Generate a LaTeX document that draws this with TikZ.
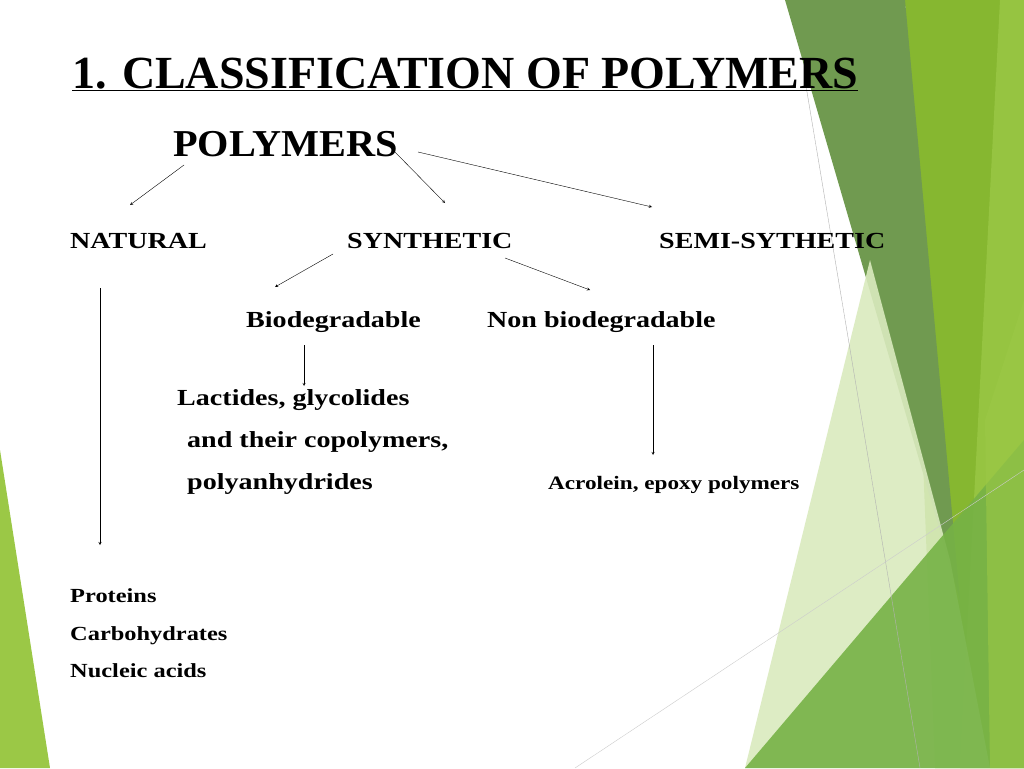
\documentclass[tikz,border=0pt]{standalone}
\usepackage{fontspec}
\setmainfont{Liberation Serif}
\newfontfamily\widef[FakeStretch=1.22]{Liberation Serif}
\newfontfamily\midf[FakeStretch=1.06]{Liberation Serif}
\begin{document}
\begin{tikzpicture}[x=1pt,y=-1pt,
  lbl/.style={font=\widef\bfseries\fontsize{23}{28}\selectfont,anchor=base west,inner sep=0},
  sm/.style={font=\widef\bfseries\fontsize{20}{26}\selectfont,anchor=base west,inner sep=0},
  arr/.style={-stealth,thin}]
\useasboundingbox (0,0) rectangle (1024,768);
\fill[white] (0,0) rectangle (1024,768);
\definecolor{dk}{RGB}{112,154,80}
\definecolor{br}{RGB}{134,183,48}
\definecolor{lt}{RGB}{155,200,70}
\definecolor{pale}{RGB}{218,234,190}
\definecolor{md}{RGB}{118,178,70}
\fill[br] (905,0) -- (1024,0) -- (1024,768) -- (935,768) -- cycle;
\fill[lt,opacity=0.8] (1000,0) -- (1024,0) -- (1024,768) -- (960,768) -- cycle;
\fill[dk] (785,0) -- (905,0) -- (960,600) -- cycle;
\fill[pale,opacity=0.9] (870,260) -- (745,768) -- (990,768) -- (950,560) -- cycle;
\fill[md,opacity=0.9] (745,768) -- (1024,440) -- (1024,768) -- cycle;
\fill[lt,opacity=0.6] (985,420) -- (1024,300) -- (1024,768) -- (990,768) -- cycle;
\fill[lt] (0,450) -- (0,768) -- (50,768) -- cycle;
\draw[gray!60,thin] (805,80) -- (920,768);
\draw[gray!40,thin] (575,768) -- (1024,470);
% text
\node[inner sep=0,anchor=base west,font=\bfseries\fontsize{46}{50}\selectfont] (t) at (72,88) {\underline{1. CLASSIFICATION OF POLYMERS}};
\node[inner sep=0,anchor=base west,font=\midf\bfseries\fontsize{38}{44}\selectfont] (p) at (173,156) {POLYMERS};
\node[lbl] (n) at (70,248) {NATURAL};
\node[lbl] (s) at (347,248) {SYNTHETIC};
\node[lbl] (ss) at (659,248) {SEMI-SYTHETIC};
\node[lbl] (b) at (246,327) {Biodegradable};
\node[lbl] (nb) at (487,327) {Non biodegradable};
\node[lbl] (l1) at (177,405) {Lactides, glycolides};
\node[lbl] (l2) at (187,447) {and their copolymers,};
\node[lbl] (l3) at (187,489) {polyanhydrides};
\node[sm,font=\widef\bfseries\fontsize{19}{24}\selectfont] (ac) at (548,489) {Acrolein, epoxy polymers};
\node[sm] (pr) at (70,602) {Proteins};
\node[sm] (ca) at (70,640) {Carbohydrates};
\node[sm] (nu) at (70,677) {Nucleic acids};
% arrows
\coordinate (a1) at (184,165); \coordinate (a1e) at (130,205);
\coordinate (a2) at (393,150); \coordinate (a2e) at (445,203);
\coordinate (a3) at (418,152); \coordinate (a3e) at (652,207);
\coordinate (b1) at (333,254); \coordinate (b1e) at (275,287);
\coordinate (b2) at (505,258); \coordinate (b2e) at (590,290);
\coordinate (c1) at (304,345); \coordinate (c1e) at (304,386);
\coordinate (c2) at (653,345); \coordinate (c2e) at (653,455);
\coordinate (d1) at (100,288); \coordinate (d1e) at (100,545);
\draw[arr] (a1) -- (a1e);
\draw[arr] (a2) -- (a2e);
\draw[arr] (a3) -- (a3e);
\draw[arr] (b1) -- (b1e);
\draw[arr] (b2) -- (b2e);
\draw[arr] (c1) -- (c1e);
\draw[arr] (c2) -- (c2e);
\draw[arr] (d1) -- (d1e);
\end{tikzpicture}
\end{document}
